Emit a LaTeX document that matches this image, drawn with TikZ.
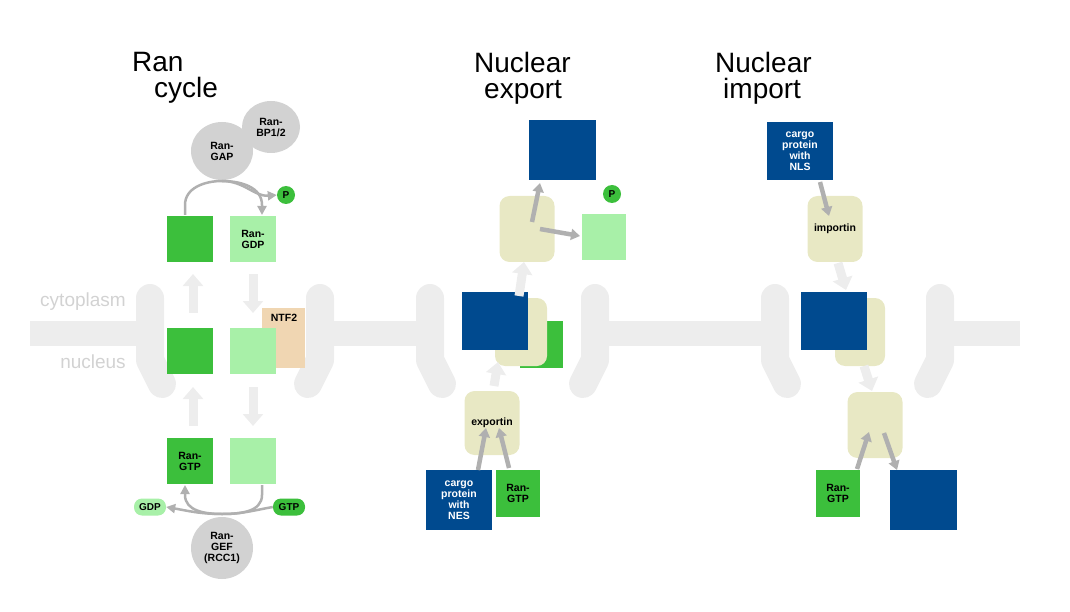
\documentclass[tikz,border=0pt]{standalone}
\usepackage{fontspec}
\setmainfont{Liberation Sans}
\usetikzlibrary{arrows.meta,positioning,shapes.geometric}
\definecolor{dgreen}{HTML}{3CBF3C}
\definecolor{lgreen}{HTML}{A8F0A8}
\definecolor{cblue}{HTML}{004A8F}
\definecolor{tan}{HTML}{E8E8C4}
\definecolor{ntf}{HTML}{F0D6B2}
\definecolor{memb}{HTML}{EDEDED}
\definecolor{ggray}{HTML}{D2D2D2}
\definecolor{agray}{HTML}{B0B0B0}
\begin{document}
\begin{tikzpicture}[x=1pt,y=-1pt,
  box/.style={draw=none,minimum width=#1,minimum height=#1,inner sep=0pt,align=center,
    font=\fontsize{10.5}{11}\selectfont\bfseries},
  dk/.style={box=46,fill=dgreen},
  lt/.style={box=46,fill=lgreen},
  bl/.style={box=60,minimum width=66,fill=cblue,text=white},
  carrier/.style={box=55,minimum height=66,fill=tan,rounded corners=10pt},
  blob/.style={ellipse,fill=ggray,inner sep=0pt,align=center,font=\fontsize{10.5}{11}\selectfont\bfseries},
  pill/.style={rounded corners=8pt,minimum width=32,minimum height=17,inner sep=1pt,font=\fontsize{10}{10}\selectfont\bfseries},
  pcirc/.style={circle,fill=dgreen,minimum size=18,inner sep=0pt,font=\fontsize{10}{10}\selectfont\bfseries},
  title/.style={font=\fontsize{28}{26}\selectfont,align=left,inner sep=0pt,anchor=north west},
  side/.style={font=\fontsize{19}{19}\selectfont,text=ggray,inner sep=0pt},
  pore/.style={memb,line width=28pt,line cap=round,line join=round},
  wide/.style={memb,line width=9pt,-{Triangle[width=20pt,length=12pt]}},
  thin/.style={agray,line width=4.5pt,-{Triangle[width=11pt,length=9pt]}},
  arc/.style={agray,line width=2.5pt},
  tip/.style={-{Triangle[width=9pt,length=9pt]}},
]
\useasboundingbox (0,0) rectangle (1070,612);
% membrane and pores
\foreach \a/\b in {30/150,320/430,595/775,940/1020}
  \draw[memb,line width=25pt] (\a,333) -- (\b,333);
\foreach \x in {150,430,775}
  \draw[pore] (\x,298) -- (\x,360) -- (\x+12,384);
\foreach \x in {320,595,940}
  \draw[pore] (\x,298) -- (\x,360) -- (\x-12,384);
\node[side] (cyto) at (83,302) {cytoplasm};
\node[side] (nuc) at (93,362) {nucleus};
% titles
\node[title] (t1) at (132,52) {Ran\\\hspace{22pt}cycle};
\node[title] (t2) at (474,52) {Nuclear\\\hspace{10pt}export};
\node[title] (t3) at (715,52) {Nuclear\\\hspace{8pt}import};
% ---------- Ran cycle
\node[blob,minimum width=58,minimum height=52] (bp) at (271,127) {Ran-\\BP1/2};
\node[blob,minimum width=62,minimum height=58] (gap) at (222,151) {Ran-\\GAP};
\node[dk] (c1) at (190,239) {};
\node[lt] (c2) at (253,239) {Ran-\\GDP};
\node[pcirc] (p1) at (286,195) {P};
\node[fill=ntf,minimum width=43,minimum height=60,inner sep=0pt,anchor=north west] (ntf2) at (262,308) {};
\node[font=\fontsize{10.5}{11}\selectfont\bfseries,inner sep=0pt] (ntflab) at (284,318) {NTF2};
\node[dk] (n1) at (190,351) {};
\node[lt] (n2) at (253,351) {};
\node[dk] (b1) at (190,461) {Ran-\\GTP};
\node[lt] (b2) at (253,461) {};
\node[blob,minimum width=62,minimum height=62] (gef) at (222,548) {Ran-\\GEF\\(RCC1)};
\node[pill,fill=dgreen] (gtp) at (289,507) {GTP};
\node[pill,fill=lgreen] (gdp) at (150,507) {GDP};
\coordinate (topm) at (222,181);
\coordinate (botm) at (222,514);
\coordinate (ta) at (185,215);
\coordinate (tb) at (262,215);
\coordinate (ba) at (185,485);
\coordinate (bb) at (262,485);
\draw[arc,tip] (ta) -- (185,205) to[out=90,in=180] (topm) to[out=0,in=90] (262,205) -- (tb);
\draw[arc,tip] (topm) to[out=0,in=185] (p1.west);
\draw[arc,tip] (bb) -- (262,495) to[out=-90,in=0] (botm) to[out=180,in=-90] (185,495) -- (ba);
\draw[arc] (gtp.west) to[out=190,in=0] (botm);
\draw[arc,tip] (botm) to[out=180,in=-10] (gdp.east);
\coordinate (u1a) at (193,313); \coordinate (u1b) at (193,274);
\coordinate (d1a) at (253,274); \coordinate (d1b) at (253,313);
\coordinate (u2a) at (193,426); \coordinate (u2b) at (193,387);
\coordinate (d2a) at (253,387); \coordinate (d2b) at (253,426);
\draw[wide] (u1a) -- (u1b);
\draw[wide] (d1a) -- (d1b);
\draw[wide] (u2a) -- (u2b);
\draw[wide] (d2a) -- (d2b);
% ---------- export
\node[dk,minimum width=43,minimum height=47] (xg) at (541,344) {};
\node[carrier,minimum width=52,minimum height=68] (xc) at (521,332) {};
\node[bl,minimum height=58] (xb) at (495,321) {};
\node[carrier] (ex2) at (527,229) {};
\node[bl,minimum height=60,minimum width=67] (xb2) at (562,150) {};
\node[lt,minimum width=44] (xl) at (604,237) {};
\node[pcirc] (p2) at (612,194) {P};
\node[carrier,minimum height=64] (ex) at (492,423) {exportin};
\node[bl] (nes) at (459,500) {cargo\\protein\\with\\NES};
\node[dk,minimum height=47,minimum width=44] (eg) at (518,493) {Ran-\\GTP};
\coordinate (e1) at (486,428); \coordinate (e2) at (499,428);
\coordinate (e3) at (494,386); \coordinate (e4) at (498,362);
\coordinate (e5) at (519,296); \coordinate (e6) at (524,262);
\coordinate (e7) at (532,222); \coordinate (e8) at (540,183);
\coordinate (e9) at (540,229); \coordinate (e10) at (580,236);
\draw[thin] (478,470) -- (e1);
\draw[thin] (509,468) -- (e2);
\draw[wide] (e3) -- (e4);
\draw[wide] (e5) -- (e6);
\draw[thin] (e7) -- (e8);
\draw[thin] (e9) -- (e10);
% ---------- import
\node[bl,minimum height=58] (nls) at (800,151) {cargo\\protein\\with\\NLS};
\node[carrier] (im) at (835,229) {importin};
\node[carrier,minimum width=50,minimum height=68] (ic) at (860,332) {};
\node[bl,minimum height=58] (ib) at (834,321) {};
\node[carrier] (im2) at (875,425) {};
\node[dk,minimum width=44,minimum height=47] (ig) at (838,493) {Ran-\\GTP};
\node[bl,minimum height=60,minimum width=67] (ib2) at (923,500) {};
\coordinate (i1) at (829,216);
\coordinate (i2) at (838,263); \coordinate (i3) at (846,290);
\coordinate (i4) at (864,366); \coordinate (i5) at (872,391);
\coordinate (i6) at (869,432);
\coordinate (i7) at (884,433); \coordinate (i8) at (897,470);
\draw[thin] (820,182) -- (i1);
\draw[wide] (i2) -- (i3);
\draw[wide] (i4) -- (i5);
\draw[thin] (857,469) -- (i6);
\draw[thin] (i7) -- (i8);
\end{tikzpicture}
\end{document}
